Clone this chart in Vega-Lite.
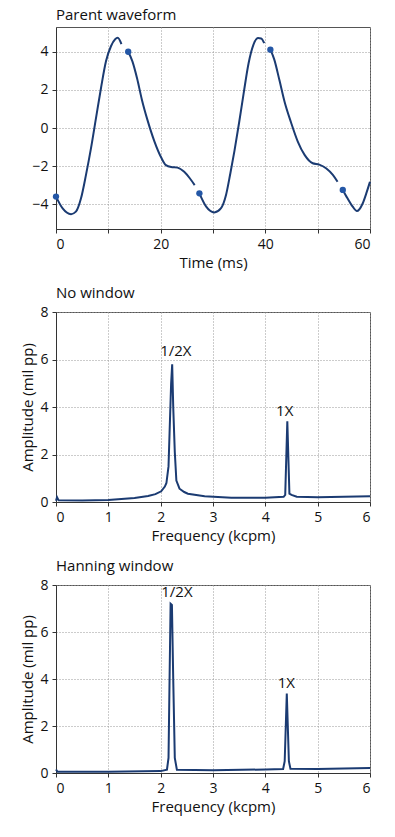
{
  "$schema": "https://vega.github.io/schema/vega-lite/v6.json",
  "background": "white",
  "padding": {"left": 20, "top": 7, "right": 20, "bottom": 5},
  "spacing": 14,
  "datasets": {
    "wave": [
      {"t": 0, "v": -3.6, "seg": 1}, {"t": 1.27, "v": -4.22, "seg": 1}, {"t": 2.87, "v": -4.52, "seg": 1}, {"t": 3.8, "v": -4.39, "seg": 1},
      {"t": 4.78, "v": -3.69, "seg": 1}, {"t": 5.73, "v": -2.46, "seg": 1}, {"t": 6.69, "v": -1.06, "seg": 1}, {"t": 7.64, "v": 0.52, "seg": 1},
      {"t": 8.6, "v": 2.1, "seg": 1}, {"t": 9.55, "v": 3.5, "seg": 1}, {"t": 10.5, "v": 4.29, "seg": 1}, {"t": 11.3, "v": 4.66, "seg": 1},
      {"t": 11.8, "v": 4.73, "seg": 1}, {"t": 12.5, "v": 4.4, "seg": 1},
      {"t": 13.8, "v": 4.0, "seg": 2}, {"t": 14.6, "v": 3.5, "seg": 2}, {"t": 15.5, "v": 2.6, "seg": 2}, {"t": 16.4, "v": 1.5, "seg": 2},
      {"t": 17.5, "v": 0.4, "seg": 2}, {"t": 18.8, "v": -0.7, "seg": 2}, {"t": 20.1, "v": -1.55, "seg": 2}, {"t": 21.0, "v": -1.95, "seg": 2},
      {"t": 22.0, "v": -2.05, "seg": 2}, {"t": 23.2, "v": -2.08, "seg": 2}, {"t": 24.5, "v": -2.3, "seg": 2}, {"t": 25.6, "v": -2.65, "seg": 2},
      {"t": 26.5, "v": -3.0, "seg": 2},
      {"t": 27.4, "v": -3.43, "seg": 3}, {"t": 28.7, "v": -4.13, "seg": 3}, {"t": 30.25, "v": -4.43, "seg": 3}, {"t": 31.5, "v": -4.22, "seg": 3},
      {"t": 32.5, "v": -3.5, "seg": 3}, {"t": 33.3, "v": -2.4, "seg": 3}, {"t": 34.1, "v": -1.2, "seg": 3}, {"t": 35.0, "v": 0.3, "seg": 3},
      {"t": 35.9, "v": 1.9, "seg": 3}, {"t": 36.8, "v": 3.4, "seg": 3}, {"t": 37.7, "v": 4.35, "seg": 3}, {"t": 38.6, "v": 4.72, "seg": 3},
      {"t": 39.2, "v": 4.7, "seg": 3}, {"t": 39.8, "v": 4.45, "seg": 3},
      {"t": 40.96, "v": 4.11, "seg": 4}, {"t": 41.7, "v": 3.6, "seg": 4}, {"t": 42.7, "v": 2.5, "seg": 4}, {"t": 43.7, "v": 1.35, "seg": 4},
      {"t": 44.9, "v": 0.3, "seg": 4}, {"t": 46.2, "v": -0.71, "seg": 4}, {"t": 47.5, "v": -1.41, "seg": 4}, {"t": 49.05, "v": -1.85, "seg": 4},
      {"t": 50.3, "v": -1.92, "seg": 4}, {"t": 51.6, "v": -2.11, "seg": 4}, {"t": 52.9, "v": -2.46, "seg": 4}, {"t": 53.8, "v": -2.82, "seg": 4},
      {"t": 54.8, "v": -3.25, "seg": 5}, {"t": 55.7, "v": -3.69, "seg": 5}, {"t": 56.7, "v": -4.13, "seg": 5}, {"t": 57.5, "v": -4.36, "seg": 5},
      {"t": 58.6, "v": -3.96, "seg": 5}, {"t": 59.4, "v": -3.34, "seg": 5}, {"t": 60, "v": -2.82, "seg": 5}
    ],
    "dots": [
      {"t": 0, "v": -3.6}, {"t": 13.8, "v": 4.0}, {"t": 27.4, "v": -3.43}, {"t": 40.96, "v": 4.11}, {"t": 54.8, "v": -3.25}
    ],
    "nowin": [
      {"f": 0, "a": 0.05}, {"f": 0.02, "a": 0.2}, {"f": 0.05, "a": 0.07}, {"f": 0.5, "a": 0.06}, {"f": 1.0, "a": 0.08},
      {"f": 1.5, "a": 0.17}, {"f": 1.76, "a": 0.25}, {"f": 1.9, "a": 0.33}, {"f": 2.01, "a": 0.45}, {"f": 2.08, "a": 0.65},
      {"f": 2.11, "a": 0.8}, {"f": 2.15, "a": 1.5}, {"f": 2.17, "a": 2.9}, {"f": 2.2, "a": 5.0}, {"f": 2.22, "a": 5.8},
      {"f": 2.24, "a": 4.0}, {"f": 2.27, "a": 2.1}, {"f": 2.3, "a": 0.9}, {"f": 2.36, "a": 0.56}, {"f": 2.45, "a": 0.42},
      {"f": 2.52, "a": 0.35}, {"f": 2.84, "a": 0.24}, {"f": 3.35, "a": 0.18}, {"f": 4.0, "a": 0.18}, {"f": 4.35, "a": 0.22},
      {"f": 4.38, "a": 0.3}, {"f": 4.42, "a": 3.4}, {"f": 4.46, "a": 0.35}, {"f": 4.5, "a": 0.3}, {"f": 4.6, "a": 0.22},
      {"f": 5.0, "a": 0.2}, {"f": 6.0, "a": 0.24}
    ],
    "hann": [
      {"f": 0, "a": 0.15}, {"f": 0.03, "a": 0.05}, {"f": 1.0, "a": 0.05}, {"f": 2.0, "a": 0.08}, {"f": 2.12, "a": 0.14},
      {"f": 2.15, "a": 0.64}, {"f": 2.17, "a": 4.0}, {"f": 2.19, "a": 7.2}, {"f": 2.215, "a": 7.15}, {"f": 2.24, "a": 4.0},
      {"f": 2.27, "a": 0.64}, {"f": 2.31, "a": 0.14}, {"f": 3.0, "a": 0.12}, {"f": 4.0, "a": 0.15}, {"f": 4.34, "a": 0.17},
      {"f": 4.37, "a": 0.5}, {"f": 4.41, "a": 3.38}, {"f": 4.45, "a": 0.5}, {"f": 4.48, "a": 0.18}, {"f": 5.0, "a": 0.17},
      {"f": 6.0, "a": 0.21}
    ],
    "lab_nowin": [{"f": 2.29, "a": 6.37, "txt": "1/2X"}, {"f": 4.37, "a": 3.82, "txt": "1X"}],
    "lab_hann": [{"f": 2.31, "a": 7.72, "txt": "1/2X"}, {"f": 4.4, "a": 3.82, "txt": "1X"}]
  },
  "vconcat": [
    {
      "width": 314, "height": 202,
      "title": {"text": "Parent waveform", "anchor": "start", "frame": "group", "offset": 4},
      "layer": [
        {
          "data": {"name": "wave"},
          "mark": {"type": "line", "interpolate": "monotone", "color": "#1b3b72", "strokeWidth": 2},
          "encoding": {
            "x": {"field": "t", "type": "quantitative", "scale": {"domain": [0, 60], "nice": false},
                  "axis": {"title": "Time (ms)", "values": [0, 10, 20, 30, 40, 50, 60], "labelExpr": "datum.value % 20 == 0 ? datum.label : ''"}},
            "y": {"field": "v", "type": "quantitative", "scale": {"domain": [-5.3, 5.3], "nice": false, "zero": false},
                  "axis": {"title": null, "values": [-4, -2, 0, 2, 4]}},
            "detail": {"field": "seg"}
          }
        },
        {
          "data": {"name": "dots"},
          "mark": {"type": "circle", "color": "#2457a6", "size": 40, "opacity": 1},
          "encoding": {
            "x": {"field": "t", "type": "quantitative"},
            "y": {"field": "v", "type": "quantitative"}
          }
        }
      ]
    },
    {
      "width": 314, "height": 190,
      "title": {"text": "No window", "anchor": "start", "frame": "group", "offset": 4},
      "layer": [
        {
          "data": {"name": "nowin"},
          "mark": {"type": "line", "color": "#1b3b72", "strokeWidth": 2},
          "encoding": {
            "x": {"field": "f", "type": "quantitative", "scale": {"domain": [0, 6], "nice": false},
                  "axis": {"title": "Frequency (kcpm)", "values": [0, 1, 2, 3, 4, 5, 6]}},
            "y": {"field": "a", "type": "quantitative", "scale": {"domain": [0, 8], "nice": false},
                  "axis": {"title": "Amplitude (mil pp)", "values": [0, 2, 4, 6, 8]}}
          }
        },
        {
          "data": {"name": "lab_nowin"},
          "mark": {"type": "text", "fontSize": 15, "color": "#111", "baseline": "middle", "align": "center"},
          "encoding": {
            "x": {"field": "f", "type": "quantitative"},
            "y": {"field": "a", "type": "quantitative"},
            "text": {"field": "txt"}
          }
        }
      ]
    },
    {
      "width": 314, "height": 188,
      "title": {"text": "Hanning window", "anchor": "start", "frame": "group", "offset": 4},
      "layer": [
        {
          "data": {"name": "hann"},
          "mark": {"type": "line", "color": "#1b3b72", "strokeWidth": 2},
          "encoding": {
            "x": {"field": "f", "type": "quantitative", "scale": {"domain": [0, 6], "nice": false},
                  "axis": {"title": "Frequency (kcpm)", "values": [0, 1, 2, 3, 4, 5, 6]}},
            "y": {"field": "a", "type": "quantitative", "scale": {"domain": [0, 8], "nice": false},
                  "axis": {"title": "Amplitude (mil pp)", "values": [0, 2, 4, 6, 8]}}
          }
        },
        {
          "data": {"name": "lab_hann"},
          "mark": {"type": "text", "fontSize": 15, "color": "#111", "baseline": "middle", "align": "center"},
          "encoding": {
            "x": {"field": "f", "type": "quantitative"},
            "y": {"field": "a", "type": "quantitative"},
            "text": {"field": "txt"}
          }
        }
      ]
    }
  ],
  "config": {
    "font": "Open Sans",
    "view": {"stroke": "#555", "strokeWidth": 1},
    "title": {"fontSize": 15, "fontWeight": "normal", "color": "#111"},
    "axis": {
      "labelFontSize": 14, "titleFontSize": 15, "titleFontWeight": "normal",
      "labelColor": "#111", "titleColor": "#111",
      "gridColor": "#999", "gridDash": [1, 2], "gridWidth": 1,
      "domainColor": "#333", "tickColor": "#333", "tickSize": 4,
      "labelPadding": 4, "titlePadding": 4
    }
  }
}
